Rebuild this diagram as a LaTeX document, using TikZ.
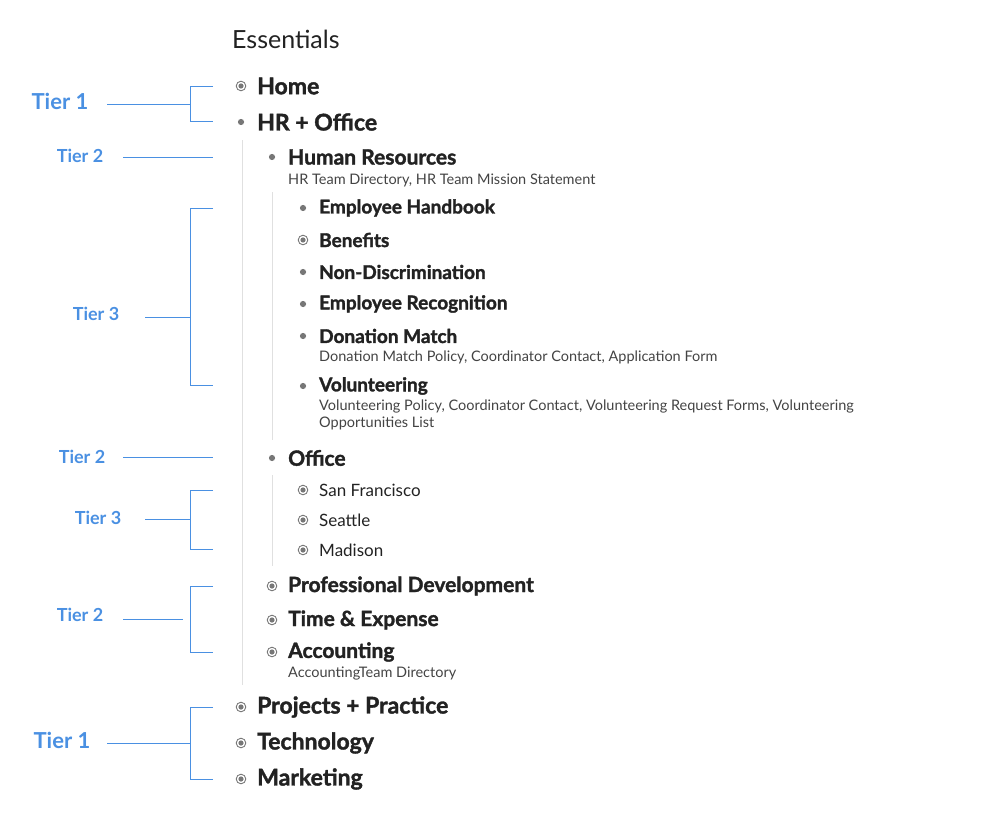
\documentclass[tikz,border=0pt]{standalone}
\usepackage{fontspec}
\setmainfont{Lato}
\newfontfamily\heavy{Lato}[UprightFont=*-Bold,UprightFeatures={FakeBold=1.6}]
\definecolor{tb}{HTML}{4A90E2}
\definecolor{tx}{HTML}{222222}
\definecolor{gr}{HTML}{777777}
\begin{document}
\begin{tikzpicture}[x=1pt,y=-1pt,
 lone/.style={font=\heavy\fontsize{23}{24}\selectfont,text=tx,anchor=west,inner sep=0},
 ltwo/.style={font=\heavy\fontsize{21}{21}\selectfont,text=tx,anchor=west,inner sep=0},
 lthree/.style={font=\heavy\fontsize{19}{19}\selectfont,text=tx,anchor=west,inner sep=0},
 lreg/.style={font=\fontsize{17}{19}\selectfont,text=tx,anchor=west,inner sep=0},
 lsub/.style={font=\fontsize{14.5}{17}\selectfont,text=tx!85,anchor=west,inner sep=0,align=left},
 tier/.style={font=\bfseries\fontsize{18}{21}\selectfont,text=tb,inner sep=0},
 tierbig/.style={font=\bfseries\fontsize{22}{26}\selectfont,text=tb,inner sep=0},
 bl/.style={draw=tb,line width=0.9pt},
 vl/.style={draw=black!12,line width=0.8pt}]
\useasboundingbox (0,0) rectangle (1000,829);
\newcommand{\ring}[2]{\draw[gr,line width=0.9pt] (#1,#2) circle (4.8); \fill[gr] (#1,#2) circle (2.6);}
\newcommand{\dotb}[2]{\fill[gr] (#1,#2) circle (3.1);}
\node[font=\fontsize{25}{28}\selectfont,text=tx,anchor=west,inner sep=0] (ess) at (232,39) {Essentials};
% vertical guide lines
\draw[vl] (242,140) -- (242,685);
\draw[vl] (272,192) -- (272,440);
\draw[vl] (272,475) -- (272,566);
% items
\ring{241}{86}\node[lone] (home) at (257,86) {Home};
\dotb{241}{122}\node[lone] (hr) at (257,122) {HR + Office};
\dotb{272}{157}\node[ltwo] (hres) at (288,157) {Human Resources};
\node[lsub] (hress) at (288,180) {HR Team Directory, HR Team Mission Statement};
\dotb{303}{208}\node[lthree] (eh) at (319,208) {Employee Handbook};
\ring{303}{240}\node[lthree] (ben) at (319,240) {Benefits};
\dotb{303}{272}\node[lthree] (nd) at (319,272) {Non-Discrimination};
\dotb{303}{304}\node[lthree] (er) at (319,304) {Employee Recognition};
\dotb{303}{336}\node[lthree] (dm) at (319,336) {Donation Match};
\node[lsub] (dms) at (319,357) {Donation Match Policy, Coordinator Contact, Application Form};
\dotb{303}{386}\node[lthree] (vol) at (319,386) {Volunteering};
\node[lsub,anchor=north west] (vols) at (319,400) {Volunteering Policy, Coordinator Contact, Volunteering Request Forms, Volunteering\\Opportunities List};
\dotb{272}{458}\node[ltwo] (off) at (288,458) {Office};
\ring{303}{490}\node[lreg] (sf) at (319,490) {San Francisco};
\ring{303}{520}\node[lreg] (sea) at (319,520) {Seattle};
\ring{303}{550}\node[lreg] (mad) at (319,550) {Madison};
\ring{272}{586}\node[ltwo] (pd) at (288,586) {Professional Development};
\ring{272}{620}\node[ltwo] (te) at (288,620) {Time \& Expense};
\ring{272}{652}\node[ltwo] (acc) at (288,652) {Accounting};
\node[lsub] (accs) at (288,674) {AccountingTeam Directory};
\ring{241}{707}\node[lone] (pp) at (257,707) {Projects + Practice};
\ring{241}{743}\node[lone] (tech) at (257,743) {Technology};
\ring{241}{779}\node[lone] (mkt) at (257,779) {Marketing};
% annotations
\node[tierbig] (t1a) at (60,101) {Tier 1};
\draw[bl] (107,104) -- (190,104);
\draw[bl] (213,86) -- (190,86) -- (190,121) -- (213,121);
\node[tier] (t2a) at (80,156) {Tier 2};
\draw[bl] (123,157) -- (213,157);
\node[tier] (t3a) at (96,314) {Tier 3};
\draw[bl] (145,317) -- (190,317);
\draw[bl] (213,208) -- (190,208) -- (190,385) -- (213,385);
\node[tier] (t2b) at (82,457) {Tier 2};
\draw[bl] (123,457) -- (213,457);
\node[tier] (t3b) at (98,518) {Tier 3};
\draw[bl] (145,519) -- (190,519);
\draw[bl] (213,490) -- (190,490) -- (190,549) -- (213,549);
\node[tier] (t2c) at (80,615) {Tier 2};
\draw[bl] (123,619) -- (183,619);
\draw[bl] (213,586) -- (190,586) -- (190,652) -- (213,652);
\node[tierbig] (t1b) at (62,740) {Tier 1};
\draw[bl] (107,743) -- (190,743);
\draw[bl] (213,707) -- (190,707) -- (190,779) -- (213,779);
\end{tikzpicture}
\end{document}
